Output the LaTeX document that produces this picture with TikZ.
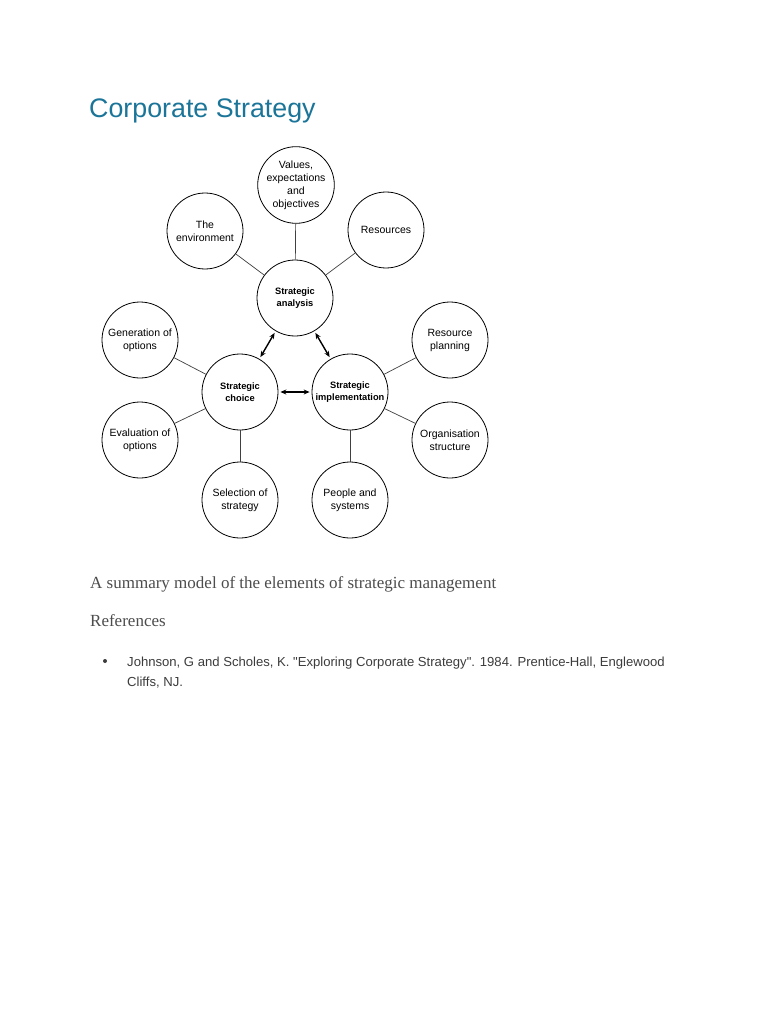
\documentclass[tikz,border=0pt]{standalone}
\usepackage{fontspec}
\usepackage{xcolor}
\usepackage{tikz}
\usetikzlibrary{arrows.meta}
\setmainfont{Liberation Serif}
\newfontfamily\arialfont{Liberation Sans}
\definecolor{titleblue}{RGB}{27,117,153}
\definecolor{bodygrey}{RGB}{77,77,77}
\definecolor{refgrey}{RGB}{60,60,60}

\begin{document}
\begin{tikzpicture}[x=1pt,y=-1pt,
	outer/.style={circle,draw,fill=white,line width=0.8pt,minimum size=76pt,inner sep=0pt,align=center,font=\arialfont\fontsize{10.5}{13}\selectfont},
	core/.style={outer,font=\arialfont\bfseries\fontsize{9.3}{12}\selectfont},
	link/.style={draw=black!75,line width=0.7pt},
	flow/.style={<->,>={Stealth[length=6pt,width=5pt]},line width=1.4pt,shorten <=2pt,shorten >=2pt}]
	\useasboundingbox[fill=white] (0,0) rectangle (768,1024);
	\coordinate (o1) at (296,185);
	\coordinate (o2) at (205,231);
	\coordinate (o3) at (386,230);
	\coordinate (o4) at (295,298);
	\coordinate (o5) at (140,340);
	\coordinate (o6) at (240,392);
	\coordinate (o7) at (350,392);
	\coordinate (o8) at (450,340);
	\coordinate (o9) at (140,440);
	\coordinate (o10) at (450,440);
	\coordinate (o11) at (240,500);
	\coordinate (o12) at (350,500);

	\node (val) at (o1) [outer] {Values,\\expectations\\and\\objectives};
	\node (env) at (o2) [outer] {The\\environment};
	\node (res) at (o3) [outer] {Resources};
	\node (ana) at (o4) [core] {Strategic\\analysis};
	\node (gen) at (o5) [outer] {Generation of\\options};
	\node (cho) at (o6) [core] {Strategic\\choice};
	\node (imp) at (o7) [core] {Strategic\\implementation};
	\node (rpl) at (o8) [outer] {Resource\\planning};
	\node (eva) at (o9) [outer] {Evaluation of\\options};
	\node (org) at (o10) [outer] {Organisation\\structure};
	\node (sel) at (o11) [outer] {Selection of\\strategy};
	\node (ppl) at (o12) [outer] {People and\\systems};

	\draw[link] (val) to[] (ana);
	\draw[link] (env) to[] (ana);
	\draw[link] (res) to[] (ana);
	\draw[link] (gen) to[] (cho);
	\draw[link] (eva) to[] (cho);
	\draw[link] (sel) to[] (cho);
	\draw[link] (rpl) to[] (imp);
	\draw[link] (org) to[] (imp);
	\draw[link] (ppl) to[] (imp);
	\draw[flow] (ana) to[] (cho);
	\draw[flow] (ana) to[] (imp);
	\draw[flow] (cho) to[] (imp);

	\node (title) at (89,118) [anchor=base west,inner sep=0pt,text=titleblue,font=\arialfont\fontsize{26.8}{30}\selectfont] {Corporate Strategy};
	\node (caption) at (90,588) [anchor=base west,inner sep=0pt,text=bodygrey,font=\fontsize{17}{20}\selectfont] {A summary model of the elements of strategic management};
	\node (refs) at (90,626) [anchor=base west,inner sep=0pt,text=bodygrey,font=\fontsize{17}{20}\selectfont] {References};
	\node (dot) at (105,661) [circle,fill=refgrey,inner sep=0pt,minimum size=4pt] {};
	\node (ref1) at (127,666) [anchor=base west,inner sep=0pt,text=refgrey,font=\arialfont\fontsize{13.1}{16}\selectfont] {Johnson, G and Scholes, K. "Exploring Corporate Strategy". 1984. Prentice-Hall, Englewood};
	\node (ref2) at (127,686) [anchor=base west,inner sep=0pt,text=refgrey,font=\arialfont\fontsize{13.1}{16}\selectfont] {Cliffs, NJ.};
\end{tikzpicture}
\end{document}
